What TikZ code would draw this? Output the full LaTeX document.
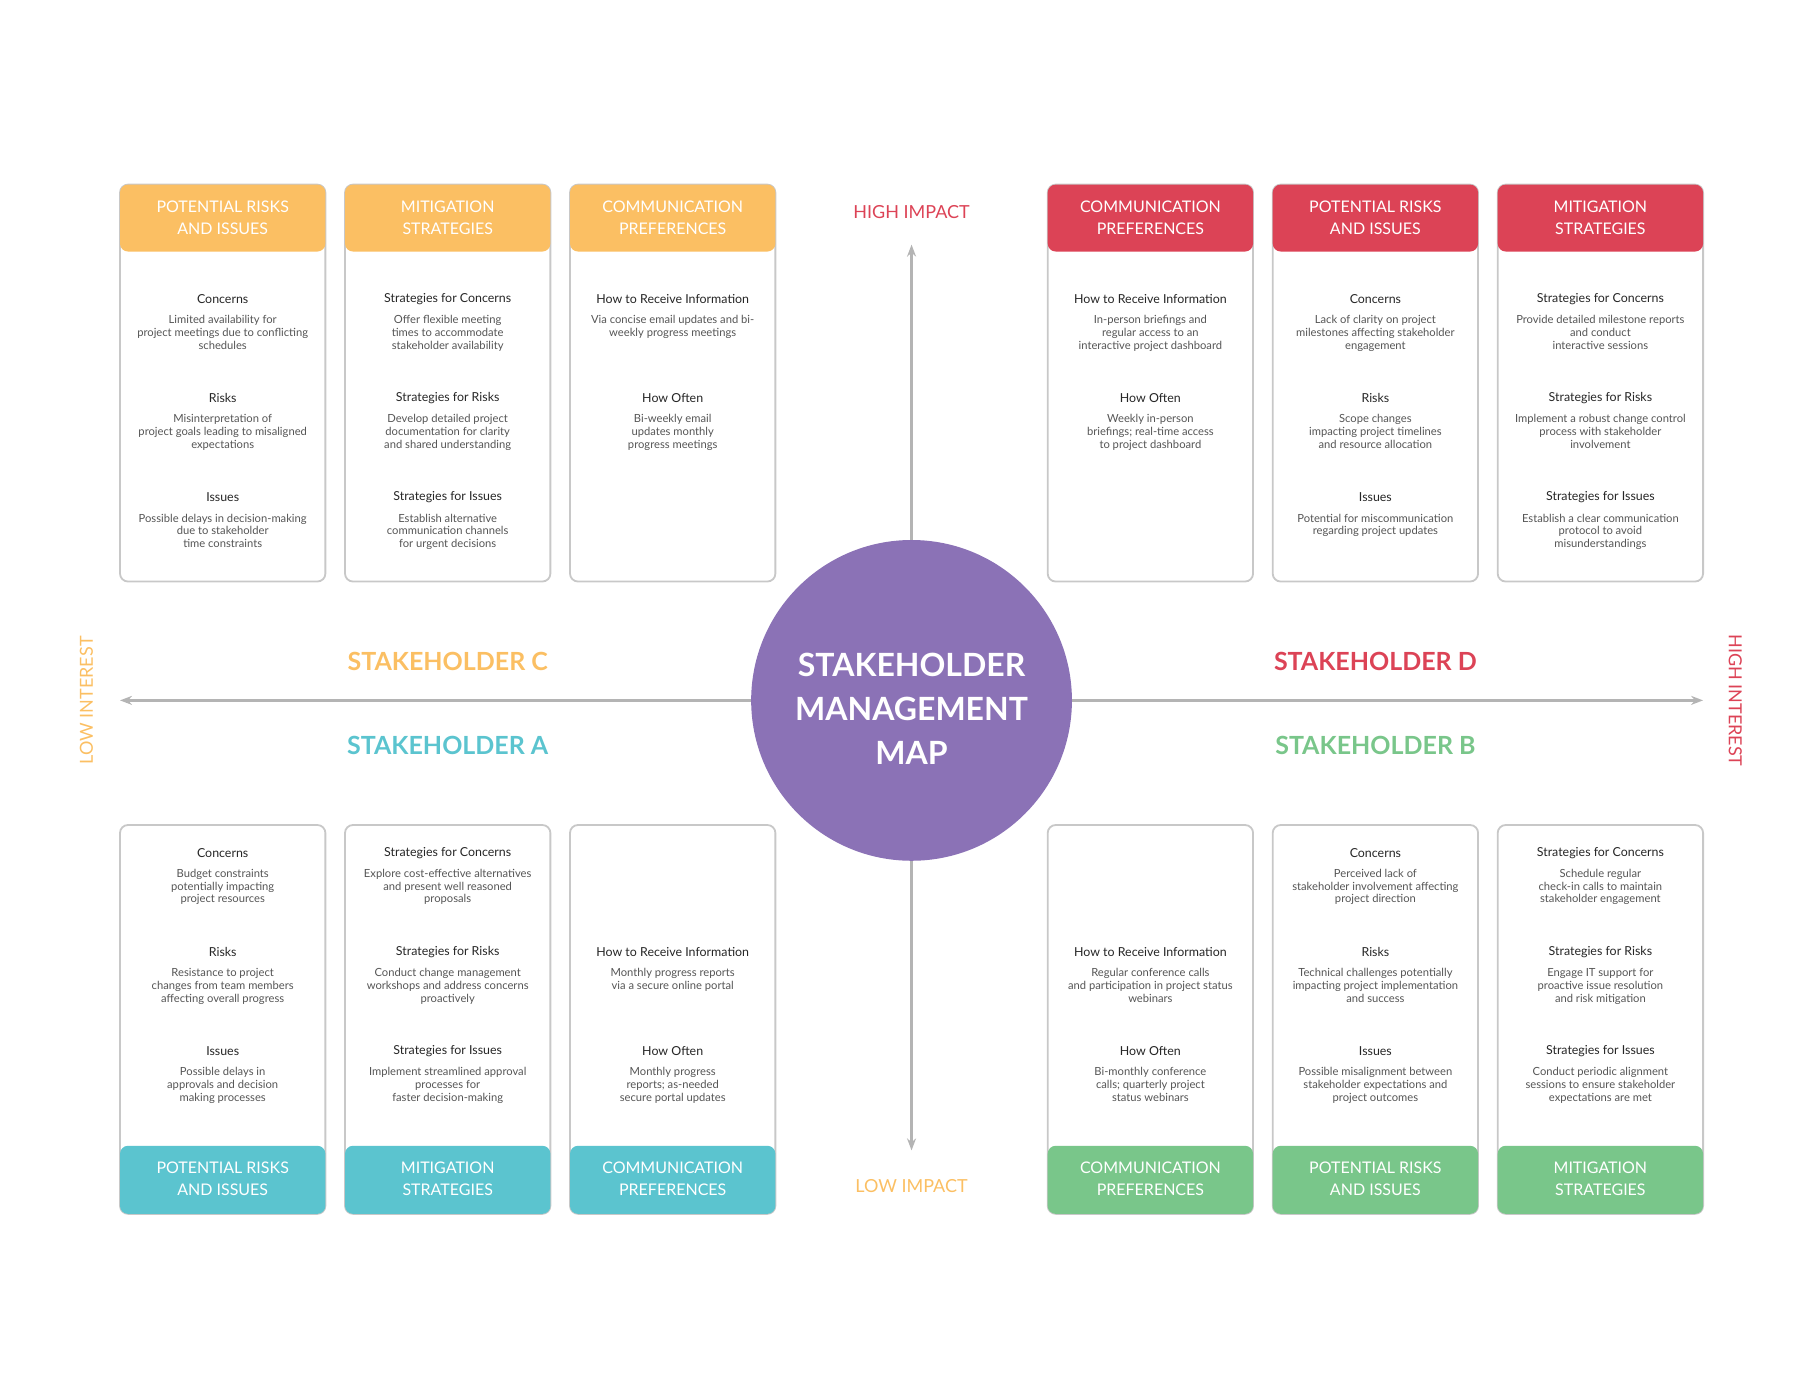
\documentclass[tikz,border=0pt]{standalone}
\usepackage{fontspec}
\usetikzlibrary{arrows.meta}
\setmainfont{Lato}
\definecolor{cor}{HTML}{FBBF63}
\definecolor{cre}{HTML}{DC4356}
\definecolor{cte}{HTML}{5BC4CF}
\definecolor{cgr}{HTML}{79C68A}
\definecolor{cpu}{HTML}{8B72B6}
\definecolor{cax}{HTML}{B4B4B4}
\definecolor{cbd}{HTML}{C8C8C8}
\definecolor{ctx}{HTML}{555555}
\tikzset{
 card/.style={draw=cbd,line width=0.9pt,rounded corners=4pt,fill=white},
 head/.style={rounded corners=4pt,text=white,align=center,font=\fontsize{8}{11}\selectfont},
 ttl/.style={font=\fontsize{6.2}{7}\selectfont,text=black!85,inner sep=0pt},
 bdy/.style={font=\fontsize{5.6}{6.35}\selectfont,text=ctx,align=center,inner sep=0pt,anchor=north},
 axis/.style={draw=cax,line width=1.2pt,-{Stealth[length=6pt]}},
 sh/.style={font=\fontsize{12.5}{14}\selectfont\bfseries}
}
% cell: name, x, y(title), title, body
\newcommand{\cel}[5]{\node[ttl] (#1t) at (#2,#3) {#4};\node[bdy] (#1b) at (#2,#3+14) {#5};}
% top column: name x color header
\newcommand{\topcol}[4]{\draw[card] (#2-89,160) rectangle (#2+89,504);
 \fill[#3,rounded corners=4pt] (#2-89,160) rectangle (#2+89,218);
 \node[head] (#1) at (#2,189) {#4};}
\newcommand{\botcol}[4]{\draw[card] (#2-89,715) rectangle (#2+89,1052);
 \fill[#3,rounded corners=4pt] (#2-89,993) rectangle (#2+89,1052);
 \node[head] (#1) at (#2,1022) {#4};}
\begin{document}
\begin{tikzpicture}[x=0.577pt,y=-0.577pt]
\useasboundingbox (0,0) rectangle (1560,1197);
% axes
\node[circle,fill=cpu,minimum size=278*0.577pt,inner sep=0pt] (c) at (790,607) {};
\coordinate (cl) at (104,607); \coordinate (cr) at (1476,607);
\coordinate (ct) at (790,212); \coordinate (cb) at (790,997);
\draw[axis] (c.west) -- (cl); \draw[axis] (c.east) -- (cr);
\draw[axis] (c.north) -- (ct); \draw[axis] (c.south) -- (cb);
\node[text=white,align=center,font=\fontsize{16}{22}\selectfont\bfseries] (ctext) at (790,614) {STAKEHOLDER\\MANAGEMENT\\MAP};
\node[text=cre,font=\fontsize{9}{10}\selectfont] (hi) at (790,184) {HIGH IMPACT};
\node[text=cor,font=\fontsize{9}{10}\selectfont] (lo) at (790,1028) {LOW IMPACT};
\node[text=cor,font=\fontsize{9}{10}\selectfont,rotate=90] (li) at (75,607) {LOW INTEREST};
\node[text=cre,font=\fontsize{9}{10}\selectfont,rotate=-90] (hin) at (1504,607) {HIGH INTEREST};
\node[sh,text=cor] (sc) at (388,573) {STAKEHOLDER C};
\node[sh,text=cte] (sa) at (388,646) {STAKEHOLDER A};
\node[sh,text=cre] (sd) at (1192,573) {STAKEHOLDER D};
\node[sh,text=cgr] (sb) at (1192,646) {STAKEHOLDER B};
% top left (C)
\topcol{h1}{193}{cor}{POTENTIAL RISKS\\AND ISSUES}
\topcol{h2}{388}{cor}{MITIGATION\\STRATEGIES}
\topcol{h3}{583}{cor}{COMMUNICATION\\PREFERENCES}
\cel{a1}{193}{259}{Concerns}{Limited availability for\\project meetings due to conflicting\\schedules}
\cel{a2}{193}{345}{Risks}{Misinterpretation of\\project goals leading to misaligned\\expectations}
\cel{a3}{193}{431}{Issues}{Possible delays in decision-making\\due to stakeholder\\time constraints}
\cel{b1}{388}{259}{Strategies for Concerns}{Offer flexible meeting\\times to accommodate\\stakeholder availability}
\cel{b2}{388}{345}{Strategies for Risks}{Develop detailed project\\documentation for clarity\\and shared understanding}
\cel{b3}{388}{431}{Strategies for Issues}{Establish alternative\\communication channels\\for urgent decisions}
\cel{c1}{583}{259}{How to Receive Information}{Via concise email updates and bi-\\weekly progress meetings}
\cel{c2}{583}{345}{How Often}{Bi-weekly email\\updates monthly\\progress meetings}
% top right (D)
\topcol{h4}{997}{cre}{COMMUNICATION\\PREFERENCES}
\topcol{h5}{1192}{cre}{POTENTIAL RISKS\\AND ISSUES}
\topcol{h6}{1387}{cre}{MITIGATION\\STRATEGIES}
\cel{d1}{997}{259}{How to Receive Information}{In-person briefings and\\regular access to an\\interactive project dashboard}
\cel{d2}{997}{345}{How Often}{Weekly in-person\\briefings; real-time access\\to project dashboard}
\cel{e1}{1192}{259}{Concerns}{Lack of clarity on project\\milestones affecting stakeholder\\engagement}
\cel{e2}{1192}{345}{Risks}{Scope changes\\impacting project timelines\\and resource allocation}
\cel{e3}{1192}{431}{Issues}{Potential for miscommunication\\regarding project updates}
\cel{f1}{1387}{259}{Strategies for Concerns}{Provide detailed milestone reports\\and conduct\\interactive sessions}
\cel{f2}{1387}{345}{Strategies for Risks}{Implement a robust change control\\process with stakeholder\\involvement}
\cel{f3}{1387}{431}{Strategies for Issues}{Establish a clear communication\\protocol to avoid\\misunderstandings}
% bottom left (A)
\botcol{h7}{193}{cte}{POTENTIAL RISKS\\AND ISSUES}
\botcol{h8}{388}{cte}{MITIGATION\\STRATEGIES}
\botcol{h9}{583}{cte}{COMMUNICATION\\PREFERENCES}
\cel{g1}{193}{739}{Concerns}{Budget constraints\\potentially impacting\\project resources}
\cel{g2}{193}{825}{Risks}{Resistance to project\\changes from team members\\affecting overall progress}
\cel{g3}{193}{911}{Issues}{Possible delays in\\approvals and decision\\making processes}
\cel{i1}{388}{739}{Strategies for Concerns}{Explore cost-effective alternatives\\and present well reasoned\\proposals}
\cel{i2}{388}{825}{Strategies for Risks}{Conduct change management\\workshops and address concerns\\proactively}
\cel{i3}{388}{911}{Strategies for Issues}{Implement streamlined approval\\processes for\\faster decision-making}
\cel{j1}{583}{825}{How to Receive Information}{Monthly progress reports\\via a secure online portal}
\cel{j2}{583}{911}{How Often}{Monthly progress\\reports; as-needed\\secure portal updates}
% bottom right (B)
\botcol{h10}{997}{cgr}{COMMUNICATION\\PREFERENCES}
\botcol{h11}{1192}{cgr}{POTENTIAL RISKS\\AND ISSUES}
\botcol{h12}{1387}{cgr}{MITIGATION\\STRATEGIES}
\cel{k1}{997}{825}{How to Receive Information}{Regular conference calls\\and participation in project status\\webinars}
\cel{k2}{997}{911}{How Often}{Bi-monthly conference\\calls; quarterly project\\status webinars}
\cel{l1}{1192}{739}{Concerns}{Perceived lack of\\stakeholder involvement affecting\\project direction}
\cel{l2}{1192}{825}{Risks}{Technical challenges potentially\\impacting project implementation\\and success}
\cel{l3}{1192}{911}{Issues}{Possible misalignment between\\stakeholder expectations and\\project outcomes}
\cel{m1}{1387}{739}{Strategies for Concerns}{Schedule regular\\check-in calls to maintain\\stakeholder engagement}
\cel{m2}{1387}{825}{Strategies for Risks}{Engage IT support for\\proactive issue resolution\\and risk mitigation}
\cel{m3}{1387}{911}{Strategies for Issues}{Conduct periodic alignment\\sessions to ensure stakeholder\\expectations are met}
\end{tikzpicture}
\end{document}
